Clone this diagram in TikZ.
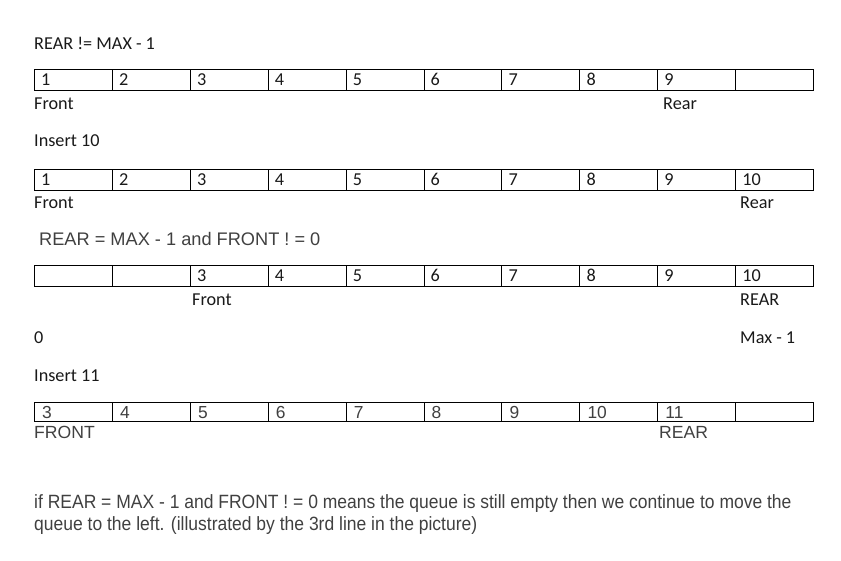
\documentclass[tikz,border=0pt]{standalone}
\usepackage{fontspec}
\setmainfont{Carlito}
\newfontfamily\arialf{Liberation Sans}
\newfontfamily\arialn[FakeStretch=0.911]{Liberation Sans}
\definecolor{txtgray}{HTML}{404040}
\tikzset{
  cellbox/.style={draw=black, line width=0.9pt, minimum width=77.9pt, minimum height=21pt, inner sep=0pt, anchor=north west},
  lbl/.style={anchor=base west, inner sep=0pt, font=\fontsize{18.2}{21}\selectfont, text=black!90},
  albl/.style={anchor=base west, inner sep=0pt, font=\arialf\fontsize{18.2}{21}\selectfont, text=txtgray},
  dlbl/.style={anchor=base west, inner sep=0pt, font=\arialf\fontsize{17.4}{20}\selectfont, text=txtgray},
  blbl/.style={anchor=base west, inner sep=0pt, font=\arialf\fontsize{17.6}{20}\selectfont, text=txtgray},
  nlbl/.style={anchor=base west, inner sep=0pt, font=\arialn\fontsize{19.2}{22}\selectfont, text=txtgray, align=left},
}
\begin{document}
\begin{tikzpicture}[x=1pt,y=-1pt]
\useasboundingbox (0,0) rectangle (841,560);
% row 1
\foreach \i in {0,...,9} { \node[cellbox] (a\i) at ({34+77.9*\i},69) {}; }
\foreach \v [count=\i from 0] in {1,2,3,4,5,6,7,8,9} { \node[lbl] (an\i) at ([xshift=7pt,yshift=5pt]a\i.south west) {\v}; }
% row 2
\foreach \i in {0,...,9} { \node[cellbox] (b\i) at ({34+77.9*\i},169) {}; }
\foreach \v [count=\i from 0] in {1,2,3,4,5,6,7,8,9,10} { \node[lbl] (bn\i) at ([xshift=7pt,yshift=5pt]b\i.south west) {\v}; }
% row 3
\foreach \i in {0,...,9} { \node[cellbox] (c\i) at ({34+77.9*\i},265) {}; }
\foreach \v [count=\i from 2] in {3,4,5,6,7,8,9,10} { \node[lbl] (cn\i) at ([xshift=7pt,yshift=5pt]c\i.south west) {\v}; }
% row 4
\foreach \i in {0,...,9} { \node[cellbox, minimum height=19pt] (d\i) at ({34+77.9*\i},402) {}; }
\foreach \v [count=\i from 0] in {3,4,5,6,7,8,9,10,11} { \node[dlbl] (dn\i) at ([xshift=8pt,yshift=3pt]d\i.south west) {\v}; }

% texts
\node[lbl] (t1) at (34,49) {REAR != MAX - 1};
\node[lbl] (f1) at (34,109) {Front};
\node[lbl] (r1) at (663,109) {Rear};
\node[lbl] (t2) at (34,146) {Insert 10};
\node[lbl] (f2) at (34,208) {Front};
\node[lbl] (r2) at (740,208) {Rear};
\node[albl] (t3) at (39,245) {REAR = MAX - 1 and FRONT ! = 0};
\node[lbl] (f3) at (192,305) {Front};
\node[lbl] (r3) at (740,305) {REAR};
\node[lbl] (z3) at (34,343) {0};
\node[lbl] (m3) at (740,343) {Max - 1};
\node[lbl] (t4) at (34,381) {Insert 11};
\node[blbl] (f4) at (34,438) {FRONT};
\node[blbl] (r4) at (659,438) {REAR};
\node[nlbl] (note1) at (34,508) {if REAR = MAX - 1 and FRONT ! = 0 means the queue is still empty then we continue to move the};
\node[nlbl] (note2) at (34,530) {queue to the left. (illustrated by the 3rd line in the picture)};
\end{tikzpicture}
\end{document}
